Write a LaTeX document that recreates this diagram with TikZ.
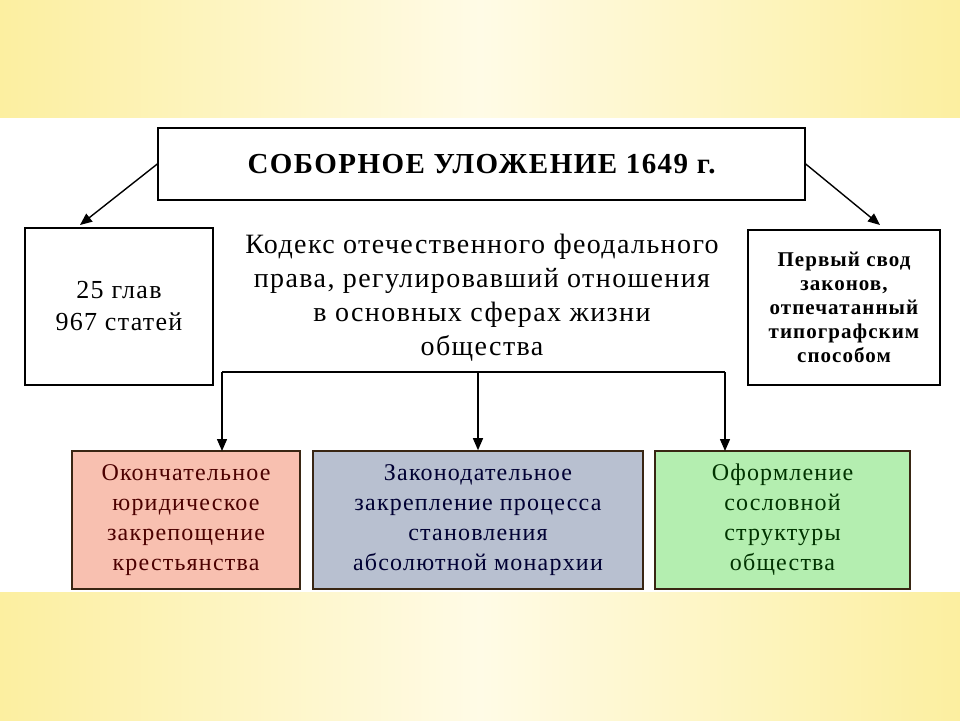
\documentclass[tikz,border=0pt]{standalone}
\usepackage{fontspec}
\setmainfont{Liberation Serif}
\newfontfamily\widefont[LetterSpace=5]{Liberation Serif}
\usetikzlibrary{arrows.meta,positioning,shadings}
\definecolor{bandyel}{HTML}{FCEFA0}
\definecolor{bandlight}{HTML}{FFFBE6}
\definecolor{salmon}{HTML}{F8C0B0}
\definecolor{slate}{HTML}{B8C0D0}
\definecolor{mint}{HTML}{B4EEB0}
\tikzset{
  frame/.style={draw=black, line width=1.4pt, fill=white, inner sep=0pt},
  topic/.style={draw=black!70!brown, line width=1.6pt, minimum height=138pt, align=center,
    font=\widefont\fontsize{24}{30}\selectfont, inner sep=0pt},
  link/.style={line width=1.4pt, -{Triangle[length=12pt,width=10pt]}}
}
\begin{document}
\begin{tikzpicture}[x=1pt, y=-1pt]
  \useasboundingbox (0,0) rectangle (960,720);
  % background bands
  \shade[left color=bandyel, right color=bandyel, middle color=bandlight] (0,0) rectangle (960,118);
  \shade[left color=bandyel, right color=bandyel, middle color=bandlight] (0,592) rectangle (960,720);
  \fill[white] (0,118) rectangle (960,592);
  % top node
  \node[frame, minimum width=647pt, minimum height=72pt, font=\widefont\fontsize{29}{30}\selectfont\bfseries]
    (code) at (481.5,164) {СОБОРНОЕ УЛОЖЕНИЕ 1649 г.};
  % side boxes
  \node[frame, minimum width=188pt, minimum height=157pt, align=center,
    font=\widefont\fontsize{26}{32}\selectfont] (size) at (119,306.5) {25 глав\\967 статей};
  \node[frame, minimum width=192pt, minimum height=155pt, align=center,
    font=\widefont\fontsize{21}{24}\selectfont\bfseries] (first) at (844,307.5)
    {Первый свод\\законов,\\отпечатанный\\типографским\\способом};
  % definition text
  \node[align=center, font=\widefont\fontsize{28}{34}\selectfont] (def) at (482,298)
    {Кодекс отечественного феодального\\права, регулировавший отношения\\в основных сферах жизни\\общества};
  \draw[link] (code.west) -- (80,225);
  \draw[link] (code.east) -- (880,225);
  % bottom boxes
  \node[topic, fill=salmon, text=red!30!black, minimum width=228pt] (serf) at (186,520)
    {Окончательное\\юридическое\\закрепощение\\крестьянства};
  \node[topic, fill=slate, text=blue!20!black, minimum width=330pt] (abs) at (478,520)
    {Законодательное\\закрепление процесса\\становления\\абсолютной монархии};
  \node[topic, fill=mint, text=green!20!black, minimum width=255pt] (estate) at (782.5,520)
    {Оформление\\сословной\\структуры\\общества};
  \coordinate (hub) at (478,372);
  \draw[line width=1.4pt] (222,372) -- (725,372);
  \draw[link] (222,372) -- (222,451);
  \draw[link] (hub) -- (abs.north);
  \draw[link] (725,372) -- (725,451);
\end{tikzpicture}
\end{document}
